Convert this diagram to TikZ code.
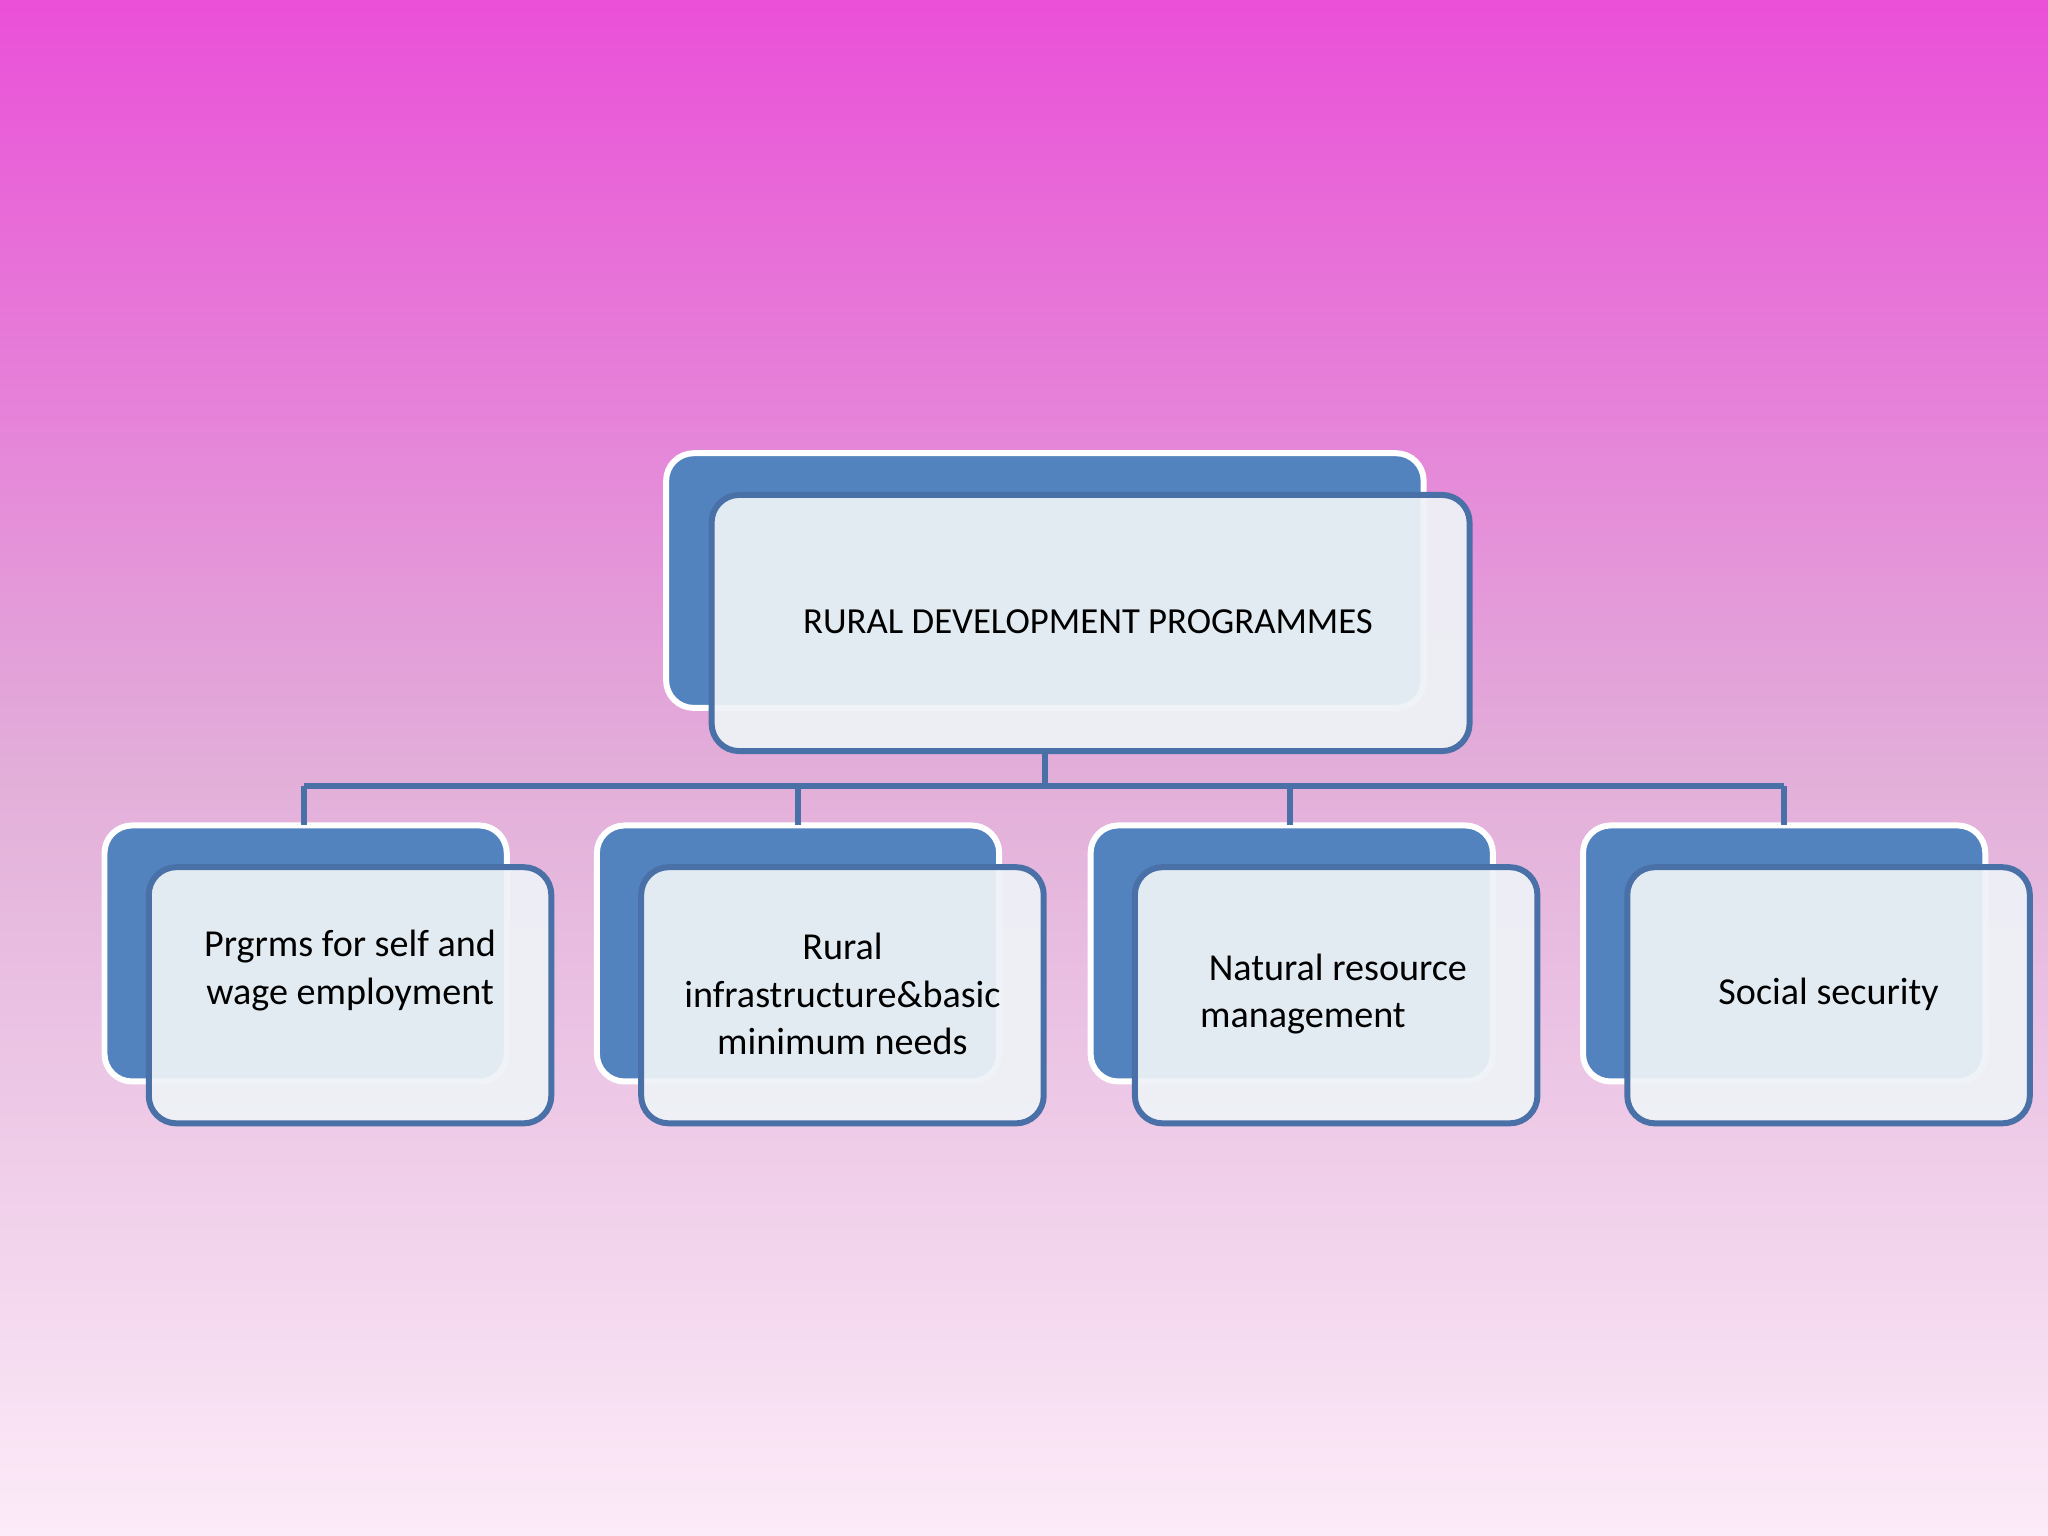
\documentclass[tikz,border=0pt]{standalone}
\usepackage{fontspec}
\setmainfont{Carlito}
\definecolor{topc}{HTML}{EA50D8}
\definecolor{midc}{HTML}{E2AED9}
\definecolor{botc}{HTML}{FCEBF8}
\definecolor{backblue}{HTML}{5283BE}
\definecolor{edgeblue}{HTML}{4A70A8}
\definecolor{frontfill}{HTML}{EEF3F7}
\begin{document}
\begin{tikzpicture}[x=0.01cm,y=-0.01cm,
  back/.style={draw=white,line width=1.3pt,fill=backblue,rounded corners=6pt},
  front/.style={draw=edgeblue,line width=1.3pt,fill=frontfill,fill opacity=0.93,rounded corners=6pt,text opacity=1,align=center,font=\fontsize{8.3}{10}\selectfont},
  conn/.style={draw=edgeblue,line width=1.3pt}]
\shade[top color=topc,bottom color=botc,middle color=midc] (0,0) rectangle (1568,1176);
\useasboundingbox (0,0) rectangle (1568,1176);
% top
\draw[back] (510,347) rectangle (1090,542);
\node[front,font=\fontsize{8}{10}\selectfont,minimum width=5.8cm,minimum height=1.96cm] (top) at (835,477) {};
\node at (833,476) {\fontsize{8}{10}\selectfont RURAL DEVELOPMENT PROGRAMMES};
% children
\foreach \bx/\name in {80/a,457/b,835/c,1212/d}{
  \draw[back] (\bx,632) rectangle (\bx+308,828);
  \node[front,minimum width=3.08cm,minimum height=1.96cm] (\name) at (\bx+188,762) {};
}
\node[align=center,font=\fontsize{8.3}{10.3}\selectfont] at (268,743) {Prgrms for self and\\wage employment};
\node[align=center,font=\fontsize{8.3}{10.3}\selectfont] at (645,761) {Rural\\infrastructure\&basic\\minimum needs};
\node[align=left,font=\fontsize{8.3}{10.3}\selectfont] at (1021,761) {\ Natural resource\\management};
\node[font=\fontsize{8.3}{10.3}\selectfont] at (1400,761) {Social security};
\coordinate (j) at (800,602);
\draw[conn] (top.south -| j) -- (j);
\draw[conn] (233,602) -- (1366,602);
\draw[conn] (233,602) -- (233,632);
\draw[conn] (611,602) -- (611,632);
\draw[conn] (988,602) -- (988,632);
\draw[conn] (1366,602) -- (1366,632);
\end{tikzpicture}
\end{document}
